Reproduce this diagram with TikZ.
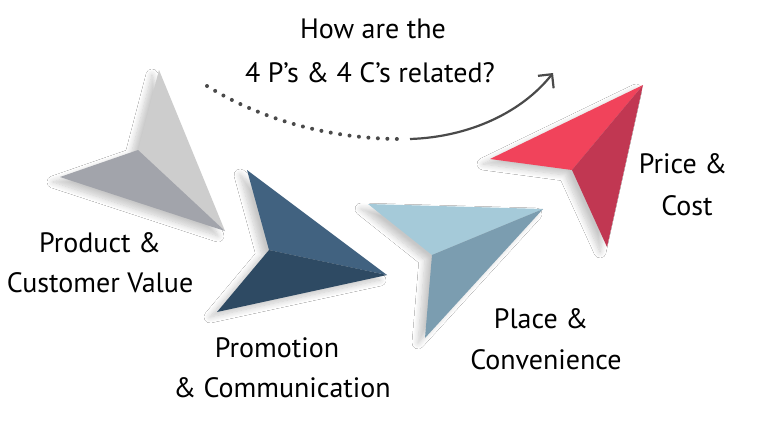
\documentclass[tikz,border=0pt]{standalone}
\usepackage{fontspec}
\setmainfont{PT Sans}
\usetikzlibrary{shadows.blur,arrows.meta}
\definecolor{grayLight}{HTML}{CDCDCD}
\definecolor{grayDark}{HTML}{A2A4AB}
\definecolor{navyUp}{HTML}{416280}
\definecolor{navyLow}{HTML}{2E4A63}
\definecolor{skyUp}{HTML}{A5CAD9}
\definecolor{skyLow}{HTML}{7B9DB0}
\definecolor{redUp}{HTML}{F1435B}
\definecolor{redLow}{HTML}{C13752}
\definecolor{curveGray}{HTML}{4A4A4A}
\tikzset{
  lbl/.style={font=\fontsize{28}{32}\selectfont, text=black, anchor=base, inner sep=0pt},
  softshadow/.style={blur shadow={shadow xshift=-7pt, shadow yshift=-5pt, shadow blur radius=6pt, shadow blur steps=10, shadow opacity=22}},
  dotcurve/.style={curveGray, line width=4pt, line cap=round, dash pattern=on 0pt off 9.5pt},
  solidcurve/.style={curveGray, line width=2.2pt, -{Straight Barb[length=10pt,width=20pt,line width=2.2pt]}}
}
\begin{document}
\begin{tikzpicture}[x=1pt,y=-1pt]
\fill[white] (0,0) rectangle (768,432);
\useasboundingbox (0,0) rectangle (768,432);

% gray arrow
\coordinate (gT) at (159,70);
\coordinate (gI) at (138,150);
\coordinate (gL) at (60,177);
\coordinate (gB) at (225,231);
\path[softshadow] (gT) -- (gB) -- (gL) -- (gI) -- cycle;
\fill[grayLight] (gT) -- (gI) -- (gB) -- cycle;
\fill[grayDark] (gL) -- (gI) -- (gB) -- cycle;

% navy arrow
\coordinate (bTL) at (247,170);
\coordinate (bI) at (269,250);
\coordinate (bR) at (387,275);
\coordinate (bBL) at (217,312);
\path[softshadow] (bTL) -- (bR) -- (bBL) -- (bI) -- cycle;
\fill[navyUp] (bTL) -- (bI) -- (bR) -- cycle;
\fill[navyLow] (bI) -- (bR) -- (bBL) -- cycle;

% light blue arrow
\coordinate (lTL) at (368,204);
\coordinate (lR) at (543,209);
\coordinate (lI) at (432,255);
\coordinate (lB) at (425,338);
\path[softshadow] (lTL) -- (lR) -- (lB) -- (lI) -- cycle;
\fill[skyUp] (lTL) -- (lR) -- (lI) -- cycle;
\fill[skyLow] (lI) -- (lR) -- (lB) -- cycle;

% red arrow
\coordinate (rL) at (490,159);
\coordinate (rT) at (643,85);
\coordinate (rI) at (572,170);
\coordinate (rB) at (607,247);
\path[softshadow] (rL) -- (rT) -- (rB) -- (rI) -- cycle;
\fill[redUp] (rL) -- (rT) -- (rI) -- cycle;
\fill[redLow] (rI) -- (rT) -- (rB) -- cycle;

% curved connector
\coordinate (cS) at (207,86);
\coordinate (cM) at (401,139);
\coordinate (cN) at (410,139);
\coordinate (cE) at (553,73);
\draw[dotcurve] (cS) .. controls (265,122) and (335,139) .. (cM);
\draw[solidcurve] (cN) .. controls (470,137) and (522,112) .. (cE);

% texts
\node[lbl] (q1) at (373,38) {How are the};
\node[lbl] (q2) at (370,82) {4 P’s \& 4 C’s related?};
\node[lbl] (p1) at (100,252) {Product \&};
\node[lbl] (p2) at (100,292) {Customer Value};
\node[lbl] (m1) at (277,357) {Promotion};
\node[lbl] (m2) at (282,397) {\& Communication};
\node[lbl] (c1) at (541,328) {Place \&};
\node[lbl] (c2) at (546,369) {Convenience};
\node[lbl] (r1) at (683,173) {Price \&};
\node[lbl] (r2) at (687,215) {Cost};
\end{tikzpicture}
\end{document}
